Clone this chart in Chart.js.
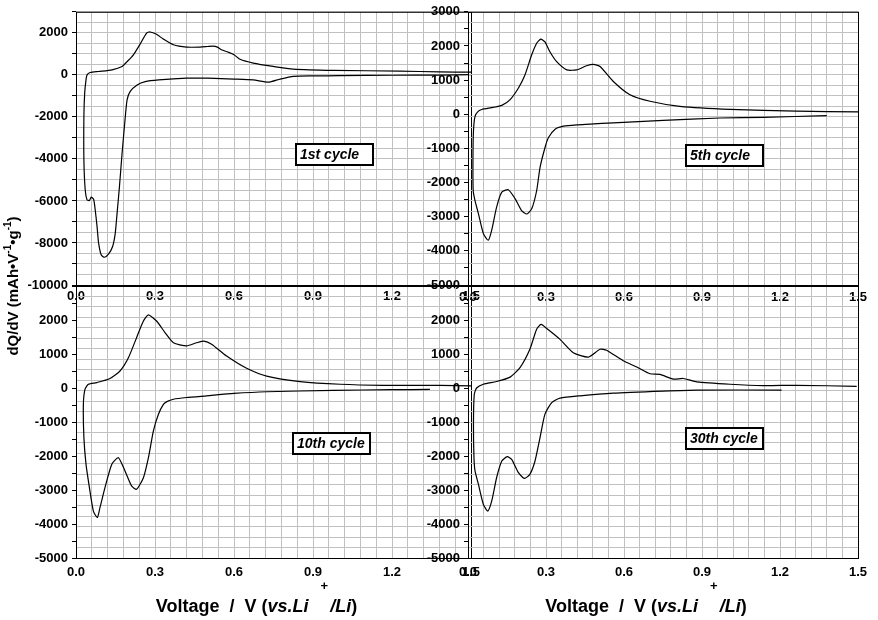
<!DOCTYPE html>
<html>
<head>
<meta charset="utf-8">
<script src="https://cdn.jsdelivr.net/npm/chart.js@4.4.1/dist/chart.umd.min.js"></script>
<style>
  html, body { margin: 0; padding: 0; background: #fff; }
  #wrap { position: relative; width: 878px; height: 620px; overflow: hidden; }
  #wrap canvas { position: absolute; left: 0; top: 0; }
</style>
</head>
<body>
<div id="wrap">
  <canvas id="p1" width="878" height="620"></canvas>
  <canvas id="p2" width="878" height="620"></canvas>
  <canvas id="p3" width="878" height="620"></canvas>
  <canvas id="p4" width="878" height="620"></canvas>
</div>
<script>
const FONT = "'Liberation Sans', Arial, sans-serif"
const GRID = '#c0c0c0'

// each trace: discharge (high V -> low V) then charge (low V -> high V)
const volt1 = [1.50, 1.38, 1.20, 1.00, 0.90, 0.826, 0.775, 0.731, 0.673, 0.60, 0.50, 0.42, 0.314, 0.263, 0.232, 0.206, 0.194, 0.185, 0.175, 0.165, 0.156, 0.149, 0.139, 0.124, 0.108, 0.096, 0.086, 0.080, 0.073, 0.067, 0.058, 0.051, 0.042, 0.035, 0.030, 0.030, 0.033, 0.038, 0.042, 0.054, 0.086, 0.137, 0.175, 0.194, 0.218, 0.243, 0.268, 0.281, 0.306, 0.332, 0.370, 0.420, 0.471, 0.500, 0.520, 0.537, 0.555, 0.580, 0.600, 0.623, 0.673, 0.749, 0.825, 0.977, 1.23, 1.38, 1.50]
const dqdv1 = [10, -10, -20, -40, -50, -70, -200, -350, -240, -200, -160, -160, -240, -320, -480, -790, -1190, -2300, -3730, -5320, -6590, -7540, -8170, -8520, -8680, -8570, -8020, -7220, -6430, -5920, -5820, -5980, -5950, -5480, -4050, -1980, -870, -240, 0, 110, 160, 240, 400, 630, 950, 1450, 1980, 2040, 1930, 1700, 1430, 1320, 1320, 1350, 1370, 1320, 1180, 1070, 960, 740, 560, 400, 270, 210, 180, 140, 130]

const volt5 = [1.38, 1.136, 0.969, 0.751, 0.559, 0.47, 0.418, 0.367, 0.335, 0.309, 0.296, 0.277, 0.264, 0.245, 0.226, 0.206, 0.181, 0.155, 0.130, 0.110, 0.091, 0.078, 0.059, 0.040, 0.027, 0.020, 0.019, 0.021, 0.027, 0.040, 0.053, 0.097, 0.130, 0.162, 0.194, 0.219, 0.245, 0.264, 0.280, 0.296, 0.315, 0.341, 0.380, 0.418, 0.456, 0.482, 0.508, 0.559, 0.623, 0.700, 0.815, 1.008, 1.264, 1.50]
const dqdv5 = [-40, -90, -110, -180, -250, -290, -310, -350, -440, -690, -980, -1560, -2240, -2770, -2920, -2820, -2470, -2210, -2280, -2720, -3400, -3690, -3490, -2910, -2530, -2240, -1400, -500, -60, 90, 140, 200, 260, 430, 770, 1150, 1740, 2080, 2200, 2120, 1830, 1540, 1300, 1300, 1420, 1460, 1400, 960, 570, 380, 230, 140, 90, 70]

const volt10 = [1.344, 1.20, 0.977, 0.724, 0.60, 0.496, 0.420, 0.370, 0.345, 0.332, 0.313, 0.294, 0.275, 0.256, 0.230, 0.211, 0.186, 0.161, 0.136, 0.110, 0.091, 0.081, 0.066, 0.051, 0.038, 0.030, 0.028, 0.034, 0.047, 0.079, 0.129, 0.167, 0.199, 0.230, 0.256, 0.275, 0.306, 0.338, 0.370, 0.420, 0.458, 0.486, 0.515, 0.572, 0.648, 0.724, 0.851, 1.003, 1.167, 1.382, 1.50]
const dqdv10 = [-40, -50, -70, -110, -160, -230, -280, -330, -400, -480, -770, -1260, -2050, -2640, -2980, -2880, -2440, -2050, -2240, -2930, -3520, -3810, -3620, -2930, -2240, -1460, -480, -40, 110, 160, 280, 500, 890, 1480, 1970, 2150, 1970, 1630, 1330, 1240, 1330, 1380, 1290, 940, 580, 350, 190, 110, 80, 80, 60]

const volt30 = [1.206, 0.880, 0.751, 0.559, 0.431, 0.354, 0.322, 0.296, 0.277, 0.258, 0.238, 0.217, 0.194, 0.168, 0.151, 0.130, 0.110, 0.091, 0.076, 0.059, 0.040, 0.027, 0.023, 0.021, 0.024, 0.033, 0.059, 0.110, 0.162, 0.200, 0.238, 0.264, 0.281, 0.303, 0.354, 0.405, 0.463, 0.508, 0.533, 0.597, 0.649, 0.700, 0.738, 0.790, 0.828, 0.880, 1.008, 1.136, 1.264, 1.495]
const dqdv30 = [-60, -60, -90, -150, -230, -300, -430, -770, -1460, -2140, -2540, -2660, -2490, -2100, -2020, -2150, -2640, -3330, -3620, -3420, -2830, -2440, -2050, -1070, -190, 0, 110, 190, 320, 600, 1140, 1730, 1870, 1750, 1430, 1040, 910, 1140, 1110, 800, 620, 420, 400, 260, 280, 180, 110, 70, 80, 50]

const cycleNames = ['1st cycle', '5th cycle', '10th cycle', '30th cycle']
const xLabels = [0, 0.3, 0.6, 0.9, 1.2, 1.5]
const yLabels1 = [-10000, -8000, -6000, -4000, -2000, 0, 2000]
const yLabels5 = [-5000, -4000, -3000, -2000, -1000, 0, 1000, 2000, 3000]
const yLabelsLow = [-5000, -4000, -3000, -2000, -1000, 0, 1000, 2000]

const has = (list, v) => list.some(l => Math.abs(l - v) < 1e-9)

function drawXTitle(ctx, cx, base) {
  const bold = 'bold 18px ' + FONT, ital = 'italic bold 18px ' + FONT, sup = 'bold 13px ' + FONT
  ctx.font = bold; const w1 = ctx.measureText('Voltage  /  V (').width, w4 = ctx.measureText(')').width
  ctx.font = ital; const w2 = ctx.measureText('vs.Li').width, w3 = ctx.measureText('/Li').width
  ctx.font = sup; const wp = ctx.measureText('+').width
  let x = cx - (w1 + w2 + 14 + wp + w3 + w4) / 2
  ctx.textAlign = 'left'; ctx.textBaseline = 'alphabetic'; ctx.fillStyle = '#000'
  ctx.font = bold; ctx.fillText('Voltage  /  V (', x, base); x += w1
  ctx.font = ital; ctx.fillText('vs.Li', x, base); x += w2 + 12
  ctx.font = sup; ctx.fillText('+', x, base - 22); x += wp + 2
  ctx.font = ital; ctx.fillText('/Li', x, base); x += w3
  ctx.font = bold; ctx.fillText(')', x, base)
}

function drawYTitle(ctx, cx, cy) {
  const main = 'bold 15px ' + FONT, sup = 'bold 10px ' + FONT
  const parts = [['dQ/dV (mAh\u2022V', main, 0], ['-1', sup, -6], ['\u2022g', main, 0], ['-1', sup, -6], [')', main, 0]]
  let total = 0
  parts.forEach(p => { ctx.font = p[1]; p.push(ctx.measureText(p[0]).width); total += p[3] })
  ctx.save()
  ctx.translate(cx, cy); ctx.rotate(-Math.PI / 2)
  ctx.textAlign = 'left'; ctx.textBaseline = 'middle'; ctx.fillStyle = '#000'
  let x = -total / 2
  parts.forEach(p => { ctx.font = p[1]; ctx.fillText(p[0], x, p[2]); x += p[3] })
  ctx.restore()
}

function decor(p) {
  return {
    id: 'decor',
    afterDraw(chart) {
      const { ctx, chartArea: a, scales } = chart
      ctx.save()
      ctx.strokeStyle = '#000'; ctx.lineWidth = 1
      ctx.strokeRect(a.left + 0.5, a.top + 0.5, a.right - a.left, a.bottom - a.top)
      const bx = Math.round(scales.x.getPixelForValue(p.labelAt[0]))
      const by = Math.round(scales.y.getPixelForValue(p.labelAt[1]))
      ctx.fillStyle = '#fff'; ctx.fillRect(bx, by, 77, 21)
      ctx.lineWidth = 2; ctx.strokeRect(bx, by, 77, 21)
      ctx.fillStyle = '#000'; ctx.font = 'italic bold 14px ' + FONT
      ctx.textAlign = 'left'; ctx.textBaseline = 'middle'
      ctx.fillText(p.name, bx + 4, by + 11)
      if (p.xTitle) drawXTitle(ctx, (a.left + a.right) / 2 - 17, 612)
      if (p.yTitle) drawYTitle(ctx, 14, 286)
      ctx.restore()
    }
  }
}

const TICK_FONT = { family: FONT, size: 13, weight: 'bold' }
const Y_W = 60, X_H = 25

function makePanel(p) {
  const pts = p.v.map((v, i) => ({ x: v, y: p.q[i] }))
  return new Chart(document.getElementById(p.id), {
    type: 'scatter',
    data: { datasets: [{ data: pts, showLine: true, borderColor: '#000', borderWidth: 1.2, pointRadius: 0, tension: 0.2, fill: false }] },
    options: {
      responsive: false,
      animation: false,
      events: [],
      layout: { padding: { left: p.area[0] - Y_W, top: p.area[1], right: 878 - p.area[2], bottom: 620 - p.area[3] - X_H } },
      plugins: { legend: { display: false }, tooltip: { enabled: false } },
      scales: {
        x: {
          type: 'linear', position: 'bottom', min: 0, max: 1.5,
          ticks: { stepSize: 0.15, autoSkip: false, maxRotation: 0, padding: p.xPad, color: '#000', font: TICK_FONT,
                   callback: v => has(xLabels, v) ? v.toFixed(1) : '' },
          grid: { drawOnChartArea: false, drawTicks: false },
          border: { display: false },
          afterFit: s => { s.height = X_H }
        },
        y: {
          type: 'linear', position: 'left', min: p.yMin, max: p.yMax,
          ticks: { stepSize: p.yStep, autoSkip: false, padding: 4, color: '#000', font: TICK_FONT,
                   callback: v => has(p.yLabels, v) ? String(v) : '' },
          grid: { drawOnChartArea: false, tickLength: 4, color: '#000' },
          border: { display: false },
          afterFit: s => { s.width = Y_W }
        },
        gx: {
          type: 'linear', axis: 'x', position: 'bottom', min: 0, max: 25,
          ticks: { display: false, stepSize: 1, autoSkip: false },
          grid: { color: GRID, drawTicks: false },
          border: { display: false },
          afterFit: s => { s.height = 0 }
        },
        gy: {
          type: 'linear', axis: 'y', position: 'left', min: 0, max: 26,
          ticks: { display: false, stepSize: 1, autoSkip: false },
          grid: { color: GRID, drawTicks: false },
          border: { display: false },
          afterFit: s => { s.width = 0 }
        }
      }
    },
    plugins: [decor(p)]
  })
}

makePanel({ id: 'p1', v: volt1, q: dqdv1, name: cycleNames[0], labelAt: [0.836, -3300],
  area: [76, 11, 471, 285], yMin: -10000, yMax: 3000, yStep: 1000, yLabels: yLabels1, xPad: 4 })
makePanel({ id: 'p2', v: volt5, q: dqdv5, name: cycleNames[1], labelAt: [0.838, -900],
  area: [468, 10, 858, 285], yMin: -5000, yMax: 3000, yStep: 500, yLabels: yLabels5, xPad: 5 })
makePanel({ id: 'p3', v: volt10, q: dqdv10, name: cycleNames[2], labelAt: [0.824, -1320],
  area: [76, 286, 471, 558], yMin: -5000, yMax: 3000, yStep: 500, yLabels: yLabelsLow, xPad: 7, xTitle: true, yTitle: true })
makePanel({ id: 'p4', v: volt30, q: dqdv30, name: cycleNames[3], labelAt: [0.838, -1180],
  area: [468, 286, 858, 558], yMin: -5000, yMax: 3000, yStep: 500, yLabels: yLabelsLow, xPad: 7, xTitle: true })
</script>
</body>
</html>
